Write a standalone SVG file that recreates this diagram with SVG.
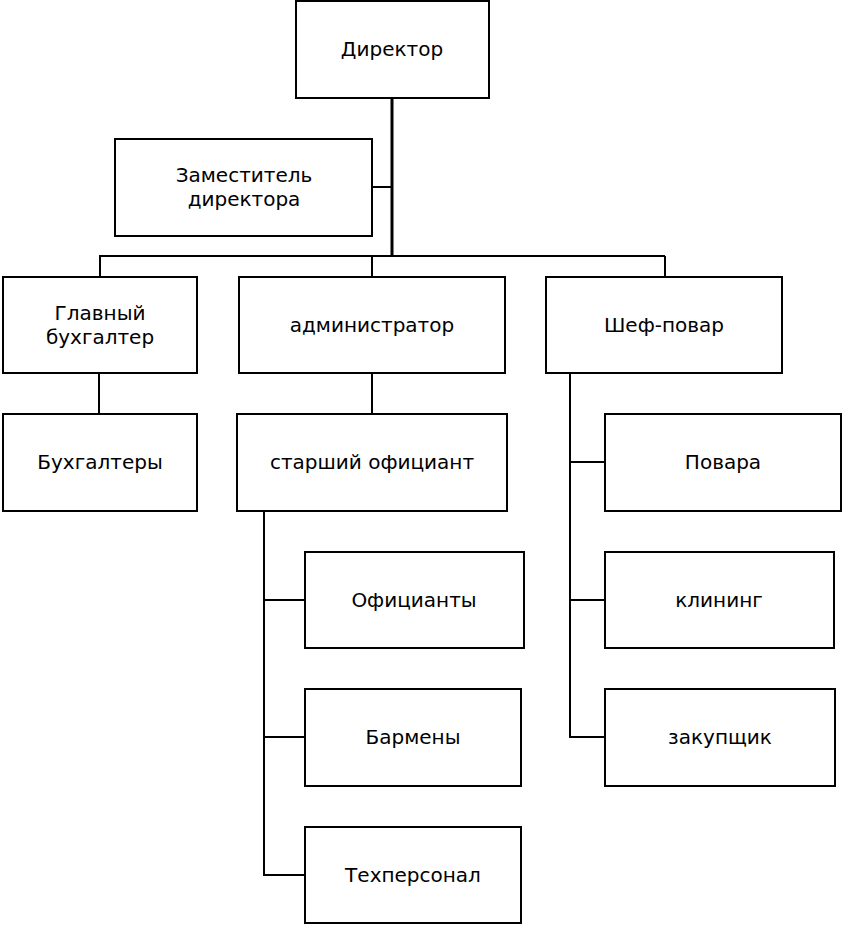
<svg xmlns="http://www.w3.org/2000/svg" width="846" height="925" viewBox="0 0 846 925">
<style>
rect{fill:#fff;stroke:#000;stroke-width:2}
text{font-family:"DejaVu Sans",Verdana,sans-serif;font-size:20px;text-anchor:middle;fill:#000}
.c line{stroke:#000;stroke-width:2}
</style>
<rect x="0" y="0" width="846" height="925" style="stroke:none"/>
<g class="c" id="connectors">
<line x1="392" y1="98" x2="392" y2="256" style="stroke-width:3"/>
<line x1="372" y1="187" x2="392" y2="187"/>
<line x1="99" y1="256" x2="665" y2="256"/>
<line x1="100" y1="256" x2="100" y2="277"/>
<line x1="372" y1="256" x2="372" y2="277"/>
<line x1="665" y1="256" x2="665" y2="277"/>
<line x1="99" y1="373" x2="99" y2="414"/>
<line x1="372" y1="373" x2="372" y2="414"/>
<line x1="264" y1="511" x2="264" y2="876"/>
<line x1="264" y1="600" x2="305" y2="600"/>
<line x1="264" y1="737" x2="305" y2="737"/>
<line x1="264" y1="875" x2="305" y2="875"/>
<line x1="570" y1="373" x2="570" y2="738"/>
<line x1="570" y1="462" x2="605" y2="462"/>
<line x1="570" y1="600" x2="605" y2="600"/>
<line x1="570" y1="737" x2="605" y2="737"/>
</g>
<g id="director"><rect x="296" y="1" width="193" height="97"/><text x="392" y="56">Директор</text></g>
<g id="deputy"><rect x="115" y="139" width="257" height="97"/><text x="244" y="182">Заместитель</text><text x="244" y="206">директора</text></g>
<g id="chiefacc"><rect x="3" y="277" width="194" height="96"/><text x="100" y="320">Главный</text><text x="100" y="344">бухгалтер</text></g>
<g id="admin"><rect x="239" y="277" width="266" height="96"/><text x="372" y="332">администратор</text></g>
<g id="chef"><rect x="546" y="277" width="236" height="96"/><text x="664" y="332">Шеф-повар</text></g>
<g id="acc"><rect x="3" y="414" width="194" height="97"/><text x="100" y="469">Бухгалтеры</text></g>
<g id="senior"><rect x="237" y="414" width="270" height="97"/><text x="372" y="469">старший официант</text></g>
<g id="waiters"><rect x="305" y="552" width="219" height="96"/><text x="414" y="607">Официанты</text></g>
<g id="barmen"><rect x="305" y="689" width="216" height="97"/><text x="413" y="744">Бармены</text></g>
<g id="tech"><rect x="305" y="827" width="216" height="96"/><text x="413" y="882">Техперсонал</text></g>
<g id="cooks"><rect x="605" y="414" width="236" height="97"/><text x="723" y="469">Повара</text></g>
<g id="cleaning"><rect x="605" y="552" width="229" height="96"/><text x="719" y="607">клининг</text></g>
<g id="buyer"><rect x="605" y="689" width="230" height="97"/><text x="720" y="744">закупщик</text></g>
</svg>
